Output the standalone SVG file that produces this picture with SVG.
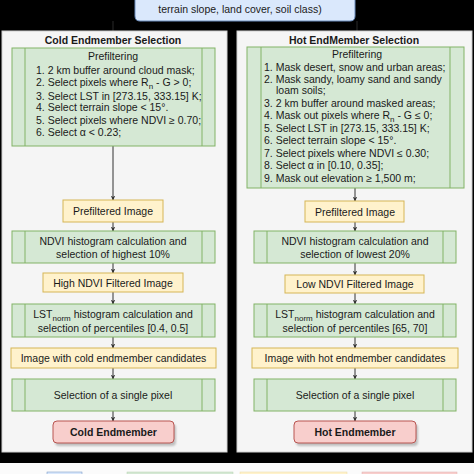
<svg xmlns="http://www.w3.org/2000/svg" width="474" height="474" viewBox="0 0 474 474">
<defs>
<style>
text{font-family:"Liberation Sans",Arial,sans-serif;font-size:10.5px;fill:#1a1a1a}
.t{font-weight:bold;font-size:10.5px}
.c{text-anchor:middle}
.g{fill:#d5e8d4;stroke:#82b366;stroke-width:1}
.gl{stroke:#82b366;stroke-width:1}
.y{fill:#fff2cc;stroke:#d6b656;stroke-width:1}
.p{fill:#f8cecc;stroke:#b85450;stroke-width:1}
.sh{fill:#9a9a9a;opacity:0.6}
.panel{fill:#f5f5f5;stroke:#d0d0d0;stroke-width:1}
.e{stroke:#333;stroke-width:1;fill:none}
</style>
<marker id="ah" viewBox="0 0 8 8" refX="7" refY="4" markerWidth="5" markerHeight="5" orient="auto">
<path d="M0,0.5 L8,4 L0,7.5 L2,4 Z" fill="#333"/>
</marker>
<filter id="blur" x="-10%" y="-10%" width="130%" height="150%"><feGaussianBlur stdDeviation="1"/></filter>
</defs>
<rect width="474" height="474" fill="#000"/>
<rect x="0" y="463" width="474" height="11" fill="#fbfbfb"/>
<g id="legend-slivers">
<rect x="47" y="472" width="35" height="6" fill="#dae8fc" stroke="#6c8ebf" stroke-width="0.5"/>
<rect x="127" y="472" width="106" height="6" fill="#d5e8d4" stroke="#b7d3b0" stroke-width="0.5"/>
<rect x="240" y="472" width="107" height="6" fill="#fff2cc" stroke="#eadba5" stroke-width="0.5"/>
<rect x="362" y="472" width="95" height="6" fill="#f8cecc" stroke="#e0b0ae" stroke-width="0.5"/>
</g>
<g id="top-box">
<path d="M135,-5 L355,-5 L355,16 Q355,21 350,21 L140,21 Q135,21 135,16 Z" fill="#dae8fc" stroke="#6c8ebf" stroke-width="1"/>
<text x="240" y="13" class="c">terrain slope, land cover, soil class)</text>
</g>
<g id="connectors-top">
<line x1="113" y1="21" x2="113" y2="31" stroke="#2a2a2a" stroke-width="1"/>
<line x1="357" y1="21" x2="357" y2="31" stroke="#2a2a2a" stroke-width="1"/>
</g>
<g id="cold-panel">
<rect class="panel" x="2" y="31" width="225" height="421"/>
<text x="113" y="44" class="c t">Cold Endmember Selection</text>
</g>
<g id="hot-panel">
<rect class="panel" x="237" y="31" width="235" height="421"/>
<text x="354" y="44" class="c t">Hot EndMember Selection</text>
</g>
<g id="connectors">
<line class="e" x1="113" y1="146" x2="113" y2="200" marker-end="url(#ah)"/>
<line class="e" x1="113" y1="222" x2="113" y2="231" marker-end="url(#ah)"/>
<line class="e" x1="113" y1="263" x2="113" y2="273" marker-end="url(#ah)"/>
<line class="e" x1="113" y1="292" x2="113" y2="304" marker-end="url(#ah)"/>
<line class="e" x1="113" y1="337" x2="113" y2="348" marker-end="url(#ah)"/>
<line class="e" x1="113" y1="368" x2="113" y2="379" marker-end="url(#ah)"/>
<line class="e" x1="113" y1="411" x2="113" y2="421" marker-end="url(#ah)"/>
<line class="e" x1="355" y1="188" x2="355" y2="201" marker-end="url(#ah)"/>
<line class="e" x1="355" y1="222" x2="355" y2="231" marker-end="url(#ah)"/>
<line class="e" x1="355" y1="263" x2="355" y2="275" marker-end="url(#ah)"/>
<line class="e" x1="355" y1="293" x2="355" y2="304" marker-end="url(#ah)"/>
<line class="e" x1="355" y1="337" x2="355" y2="348" marker-end="url(#ah)"/>
<line class="e" x1="355" y1="368" x2="355" y2="379" marker-end="url(#ah)"/>
<line class="e" x1="355" y1="411" x2="355" y2="421" marker-end="url(#ah)"/>
</g>
<g id="cold-prefilter">
<rect class="g" x="12" y="48" width="203" height="98"/>
<line class="gl" x1="25" y1="48" x2="25" y2="146"/>
<line class="gl" x1="202" y1="48" x2="202" y2="146"/>
<text x="113" y="60" class="c">Prefiltering</text>
<text x="36" y="73.5">1. 2 km buffer around cloud mask;</text>
<text x="36" y="85.5">2. Select pixels where R<tspan font-size="8" dy="3">n</tspan><tspan dy="-3"> - G &gt; 0;</tspan></text>
<text x="36" y="99.5">3. Select LST in [273.15, 333.15] K;</text>
<text x="36" y="111">4. Select terrain slope &lt; 15°.</text>
<text x="36" y="123.5">5. Select pixels where NDVI ≥ 0.70;</text>
<text x="36" y="136">6. Select α &lt; 0.23;</text>
</g>
<g id="cold-prefiltered-image">
<rect class="y" x="63" y="200" width="100" height="22"/>
<text x="113" y="215" class="c">Prefiltered Image</text>
</g>
<g id="cold-ndvi">
<rect class="g" x="12" y="231" width="203" height="32"/>
<line class="gl" x1="25" y1="231" x2="25" y2="263"/>
<line class="gl" x1="202" y1="231" x2="202" y2="263"/>
<text x="113" y="245" class="c">NDVI histogram calculation and</text>
<text x="113" y="258" class="c">selection of highest 10%</text>
</g>
<g id="cold-high-ndvi">
<rect class="y" x="43" y="273" width="140" height="19"/>
<text x="113" y="286.5" class="c">High NDVI Filtered Image</text>
</g>
<g id="cold-lst">
<rect class="g" x="12" y="304" width="203" height="33"/>
<line class="gl" x1="25" y1="304" x2="25" y2="337"/>
<line class="gl" x1="202" y1="304" x2="202" y2="337"/>
<text x="113" y="318" class="c">LST<tspan font-size="8" dy="3">norm</tspan><tspan dy="-3"> histogram calculation and</tspan></text>
<text x="113" y="332" class="c">selection of percentiles [0.4, 0.5]</text>
</g>
<g id="cold-candidates">
<rect class="y" x="11" y="348" width="205" height="20"/>
<text x="113.5" y="362" class="c">Image with cold endmember candidates</text>
</g>
<g id="cold-single">
<rect class="g" x="12" y="379" width="203" height="32"/>
<line class="gl" x1="25" y1="379" x2="25" y2="411"/>
<line class="gl" x1="202" y1="379" x2="202" y2="411"/>
<text x="113" y="399" class="c">Selection of a single pixel</text>
</g>
<g id="cold-endmember">
<rect class="sh" x="55" y="424" width="121" height="22" rx="4" filter="url(#blur)"/>
<rect class="p" x="53" y="421" width="121" height="22" rx="4"/>
<text x="113.5" y="436" class="c t">Cold Endmember</text>
</g>
<g id="hot-prefilter">
<rect class="g" x="247" y="47" width="217" height="141"/>
<line class="gl" x1="261" y1="47" x2="261" y2="188"/>
<line class="gl" x1="450" y1="47" x2="450" y2="188"/>
<text x="357" y="58" class="c">Prefiltering</text>
<text x="264" y="71">1. Mask desert, snow and urban areas;</text>
<text x="264" y="82.5">2. Mask sandy, loamy sand and sandy</text>
<text x="276" y="94">loam soils;</text>
<text x="264" y="107">3. 2 km buffer around masked areas;</text>
<text x="264" y="118.5">4. Mask out pixels where R<tspan font-size="8" dy="3">n</tspan><tspan dy="-3"> - G ≤ 0;</tspan></text>
<text x="264" y="132">5. Select LST in [273.15, 333.15] K;</text>
<text x="264" y="144">6. Select terrain slope &lt; 15°.</text>
<text x="264" y="156.5">7. Select pixels where NDVI ≤ 0.30;</text>
<text x="264" y="169">8. Select α in [0.10, 0.35];</text>
<text x="264" y="181.5">9. Mask out elevation ≥ 1,500 m;</text>
</g>
<g id="hot-prefiltered-image">
<rect class="y" x="305" y="201" width="99" height="21"/>
<text x="355" y="215.5" class="c">Prefiltered Image</text>
</g>
<g id="hot-ndvi">
<rect class="g" x="254" y="231" width="202" height="32"/>
<line class="gl" x1="267" y1="231" x2="267" y2="263"/>
<line class="gl" x1="443" y1="231" x2="443" y2="263"/>
<text x="355" y="245" class="c">NDVI histogram calculation and</text>
<text x="355" y="258" class="c">selection of lowest 20%</text>
</g>
<g id="hot-low-ndvi">
<rect class="y" x="285" y="275" width="139" height="18"/>
<text x="355" y="288" class="c">Low NDVI Filtered Image</text>
</g>
<g id="hot-lst">
<rect class="g" x="254" y="304" width="202" height="33"/>
<line class="gl" x1="267" y1="304" x2="267" y2="337"/>
<line class="gl" x1="443" y1="304" x2="443" y2="337"/>
<text x="355" y="318" class="c">LST<tspan font-size="8" dy="3">norm</tspan><tspan dy="-3"> histogram calculation and</tspan></text>
<text x="355" y="332" class="c">selection of percentiles [65, 70]</text>
</g>
<g id="hot-candidates">
<rect class="y" x="252" y="348" width="206" height="20"/>
<text x="355" y="362" class="c">Image with hot endmember candidates</text>
</g>
<g id="hot-single">
<rect class="g" x="254" y="379" width="202" height="32"/>
<line class="gl" x1="267" y1="379" x2="267" y2="411"/>
<line class="gl" x1="443" y1="379" x2="443" y2="411"/>
<text x="355" y="399" class="c">Selection of a single pixel</text>
</g>
<g id="hot-endmember">
<rect class="sh" x="296" y="424" width="122" height="22" rx="4" filter="url(#blur)"/>
<rect class="p" x="294" y="421" width="122" height="22" rx="4"/>
<text x="355" y="436" class="c t">Hot Endmember</text>
</g>
</svg>
